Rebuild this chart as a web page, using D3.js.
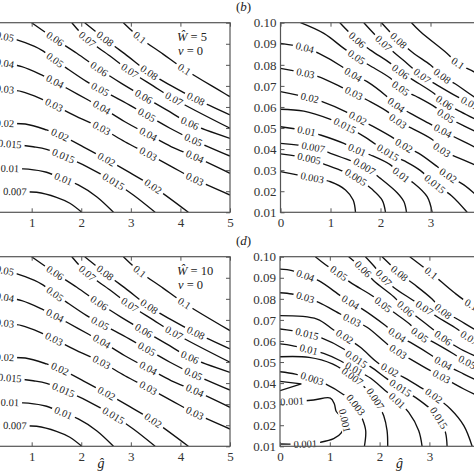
<!DOCTYPE html>
<html><head><meta charset="utf-8">
<script src="https://cdn.jsdelivr.net/npm/d3@7"></script>
<style>
body{margin:0;background:#fff}
svg{display:block}
text{font-family:"Liberation Serif","DejaVu Serif",serif}
</style></head>
<body><div class="canvas"></div>
<script>
// axis ticks
const gTicks = [0,1,2,3,4,5]
const vTicks = [0.01,0.02,0.03,0.04,0.05,0.06,0.07,0.08,0.09,0.10]

// contour lines: [g, v] points, "at" = label points
const contA = [
  {level:0.1, pts:[[2.85,0.1],[3.18,0.0929],[3.65,0.0851],[4.08,0.0779],[5.0,0.0649]], at:[1,3]},
  {level:0.08, pts:[[2.07,0.1],[2.48,0.0923],[2.95,0.0839],[3.37,0.0763],[3.82,0.07],[4.31,0.0638],[5.0,0.0562]], at:[1,3,5]},
  {level:0.07, pts:[[1.81,0.1],[2.12,0.0921],[2.58,0.0842],[2.98,0.0771],[3.45,0.07],[3.87,0.0638],[5.0,0.0499]], at:[1,3,5]},
  {level:0.06, pts:[[1.0,0.1],[1.47,0.0923],[1.91,0.0855],[2.36,0.078],[2.81,0.0712],[3.26,0.0649],[3.72,0.0586],[4.19,0.0522],[5.0,0.0451]], at:[1,3,5,7]},
  {level:0.05, pts:[[0,0.095],[0.46,0.0934],[0.87,0.0905],[1.2,0.087],[1.47,0.0823],[1.71,0.0783],[2.11,0.072],[2.38,0.0684],[2.85,0.0625],[3.32,0.0562],[3.79,0.0499],[4.26,0.0443],[5.0,0.0367]], at:[1,4,7,9,11]},
  {level:0.04, pts:[[0,0.0823],[0.46,0.0807],[0.8,0.0791],[1.2,0.0752],[1.47,0.072],[1.71,0.0689],[2.14,0.0633],[2.41,0.0598],[2.88,0.053],[3.35,0.047],[3.82,0.0411],[4.29,0.0364],[5.0,0.0285]], at:[1,4,7,9,11]},
  {level:0.03, pts:[[0,0.0693],[0.46,0.0684],[0.8,0.0673],[1.17,0.0641],[1.45,0.0609],[1.91,0.0554],[2.41,0.0499],[2.88,0.0435],[3.35,0.0377],[3.82,0.0317],[4.29,0.0257],[5.0,0.0182]], at:[1,4,6,8,10]},
  {level:0.02, pts:[[0,0.053],[0.46,0.0522],[0.87,0.0519],[1.3,0.0491],[1.57,0.0467],[2.04,0.0411],[2.51,0.0351],[2.98,0.0288],[3.45,0.0222],[4.16,0.01]], at:[1,4,6,8]},
  {level:0.015, pts:[[0,0.0431],[0.56,0.0424],[1.03,0.0411],[1.3,0.0399],[1.64,0.0367],[2.11,0.0317],[2.65,0.0246],[3.05,0.0182],[3.49,0.01]], at:[1,4,6]},
  {level:0.01, pts:[[0,0.0313],[0.56,0.0308],[0.93,0.0305],[1.3,0.029],[1.64,0.0258],[1.94,0.023],[2.31,0.0174],[2.65,0.01]], at:[1,4]},
  {level:0.007, pts:[[0,0.0203],[0.66,0.0198],[1.1,0.0195],[1.5,0.0171],[1.77,0.0143],[2.01,0.01]], at:[1]}
]

const contB = [
  {level:0.1, pts:[[2.62,0.1],[2.8,0.0957],[3.333,0.0854],[3.547,0.0807],[3.867,0.0767],[4.6,0.068]], at:[3]},
  {level:0.08, pts:[[2.02,0.1],[2.36,0.0915],[2.667,0.0854],[3.0,0.0799],[3.233,0.0747],[3.5,0.0709],[3.867,0.0649],[4.6,0.055]], at:[1,4]},
  {level:0.07, pts:[[1.667,0.1],[2.06,0.0902],[2.447,0.0824],[2.833,0.0747],[3.133,0.0704],[3.533,0.0649],[3.787,0.0617],[4.6,0.051]], at:[1,3,6]},
  {level:0.06, pts:[[1.187,0.1],[1.533,0.0918],[1.8,0.087],[2.2,0.0807],[2.4,0.0767],[2.633,0.0731],[3.067,0.0665],[3.28,0.062],[3.6,0.0578],[4.6,0.046]], at:[1,4,7]},
  {level:0.05, pts:[[0.4,0.1],[0.867,0.0949],[1.267,0.0878],[1.52,0.0836],[1.767,0.0799],[2.2,0.0736],[2.4,0.0688],[2.7,0.0652],[3.1,0.0598],[3.307,0.0557],[3.667,0.051],[4.6,0.041]], at:[3,6,9]},
  {level:0.04, pts:[[0,0.0902],[0.487,0.0881],[0.767,0.0854],[1.233,0.0791],[1.453,0.0753],[1.733,0.072],[2.133,0.0649],[2.313,0.0609],[2.6,0.057],[3.033,0.0514],[3.247,0.0486],[3.667,0.0435],[4.6,0.033]], at:[1,4,7,10]},
  {level:0.03, pts:[[0,0.0783],[0.5,0.076],[0.8,0.0741],[1.267,0.0688],[1.467,0.0665],[1.733,0.0633],[2.167,0.0573],[2.347,0.0532],[2.667,0.0494],[3.067,0.044],[3.227,0.0396],[3.667,0.0348],[4.6,0.025]], at:[1,4,7,10]},
  {level:0.02, pts:[[0,0.0673],[0.587,0.0643],[0.833,0.0625],[1.3,0.0578],[1.547,0.0546],[1.8,0.0514],[2.267,0.0451],[2.467,0.0416],[2.767,0.038],[3.133,0.0317],[3.353,0.0274],[3.667,0.023],[4.3,0.01]], at:[1,4,7,10]},
  {level:0.015, pts:[[0,0.0589],[0.467,0.058],[1.0,0.0541],[1.287,0.0511],[1.7,0.0456],[2.147,0.0383],[2.467,0.0345],[2.8,0.0298],[3.087,0.0234],[3.42,0.0179],[3.733,0.01]], at:[3,5,8]},
  {level:0.01, pts:[[0,0.0506],[0.52,0.0486],[0.8,0.0467],[1.267,0.0427],[1.533,0.0396],[1.8,0.0372],[2.2,0.0325],[2.413,0.0277],[2.667,0.0238],[2.933,0.0174],[3.033,0.01]], at:[1,4,7]},
  {level:0.007, pts:[[0,0.0427],[0.653,0.0408],[1.0,0.038],[1.4,0.0345],[1.68,0.0317],[2.0,0.0261],[2.333,0.0193],[2.467,0.0151],[2.52,0.01]], at:[1,4]},
  {level:0.005, pts:[[0,0.0377],[0.573,0.0355],[0.833,0.0332],[1.267,0.0293],[1.507,0.0266],[1.833,0.0209],[2.033,0.0158],[2.1,0.01]], at:[1,4]},
  {level:0.003, pts:[[0,0.0293],[0.633,0.0264],[1.0,0.0245],[1.3,0.0206],[1.453,0.0158],[1.5,0.01]], at:[1]}
]

const contD = [
  {level:0.1, pts:[[2.606,0.1],[3.034,0.0922],[3.49,0.0831],[3.838,0.0772],[4.6,0.068]], at:[1,3]},
  {level:0.08, pts:[[2.05,0.1],[2.217,0.0962],[2.398,0.0921],[2.686,0.087],[3.054,0.0799],[3.275,0.0741],[3.523,0.0709],[3.891,0.0657],[4.6,0.056]], at:[2,5]},
  {level:0.07, pts:[[1.715,0.1],[1.882,0.0957],[2.083,0.0899],[2.284,0.0854],[2.686,0.0791],[2.9,0.0756],[3.155,0.0715],[3.557,0.0657],[3.798,0.0614],[4.6,0.05]], at:[2,5,8]},
  {level:0.06, pts:[[1.38,0.1],[1.514,0.0973],[1.668,0.0941],[1.882,0.0886],[2.284,0.081],[2.518,0.0753],[2.719,0.072],[3.088,0.0652],[3.275,0.0614],[3.624,0.0562],[4.6,0.046]], at:[2,5,8]},
  {level:0.05, pts:[[0.71,0.1],[0.944,0.0957],[1.179,0.0921],[1.413,0.0878],[1.882,0.081],[2.07,0.0772],[2.284,0.0736],[2.619,0.0677],[2.806,0.0628],[3.088,0.0593],[3.49,0.0538],[3.758,0.0499],[4.6,0.04]], at:[2,5,8,11]},
  {level:0.04, pts:[[0,0.0941],[0.241,0.0934],[0.509,0.091],[0.777,0.0886],[1.212,0.0815],[1.413,0.0783],[1.648,0.0752],[2.117,0.0673],[2.351,0.0628],[2.619,0.0593],[3.054,0.053],[3.275,0.0494],[3.691,0.0443],[4.6,0.034]], at:[2,5,8,11]},
  {level:0.03, pts:[[0,0.0829],[0.241,0.0823],[0.509,0.0807],[0.777,0.0783],[1.212,0.0728],[1.447,0.0699],[1.748,0.0665],[2.15,0.0586],[2.371,0.0549],[2.619,0.0514],[3.021,0.0459],[3.242,0.0431],[3.691,0.0372],[4.6,0.027]], at:[2,5,8,11]},
  {level:0.02, pts:[[0,0.072],[0.743,0.0704],[1.078,0.0652],[1.299,0.062],[1.614,0.057],[1.949,0.0499],[2.204,0.0462],[2.485,0.0427],[2.82,0.038],[3.088,0.034],[3.423,0.0277],[3.691,0.0198],[3.858,0.01]], at:[3,6,9]},
  {level:0.015, pts:[[0,0.0657],[0.241,0.0649],[0.543,0.0633],[0.844,0.0614],[1.279,0.0562],[1.534,0.0514],[1.815,0.0478],[2.15,0.042],[2.418,0.0377],[2.719,0.0332],[3.021,0.0277],[3.188,0.0234],[3.322,0.0166],[3.355,0.01]], at:[2,5,8,11]},
  {level:0.01, pts:[[0,0.0586],[0.241,0.0578],[0.576,0.0559],[0.877,0.0541],[1.212,0.0506],[1.487,0.0467],[1.815,0.0424],[2.117,0.0364],[2.351,0.0317],[2.585,0.0261],[2.786,0.0174],[2.853,0.01]], at:[2,5,8]},
  {level:0.007, pts:[[0,0.0525],[0.583,0.0522],[1.052,0.0491],[1.453,0.0431],[1.715,0.0377],[1.916,0.0325],[2.083,0.0245],[2.15,0.0174],[2.163,0.01]], at:[3,5]},
  {level:0.003, pts:[[0,0.0454],[0.308,0.0443],[0.643,0.0421],[0.911,0.0396],[1.279,0.0345],[1.52,0.0296],[1.654,0.023],[1.721,0.0174],[1.695,0.01]], at:[2,5]},
  {level:0.001, pts:[[0,0.0312],[0.24,0.0313],[0.676,0.032],[1.011,0.0329],[1.092,0.0301],[1.13,0.0265],[1.3,0.0222],[1.226,0.0162],[1.078,0.0136],[0.81,0.0119],[0.509,0.0111],[0,0.0111]], at:[1,6,10]},
  {level:0.001, pts:[[0,0.0408],[0.429,0.0396],[0,0.0364]], at:[]}
]

const W = 474, H = 474
const panels = [
  {id:"a", cont:contA, x0:-17.9, x1:230, top:22.7, bot:212.3, note:"5", xlab:false, ylab:false},
  {id:"b", cont:contB, x0:280.5, x1:530.5, top:22.7, bot:212.3, note:null, xlab:false, ylab:true},
  {id:"c", cont:contA, x0:-17.9, x1:230, top:256.7, bot:446.3, note:"10", xlab:true, ylab:false},
  {id:"d", cont:contD, x0:280, x1:529, top:256.7, bot:446.3, note:null, xlab:true, ylab:true}
]

const svg = d3.select(".canvas").append("svg").attr("width",W).attr("height",H)
const defs = svg.append("defs")

const fs = 10.5
// width of a serif number label at fs
const labW = s => (s.replace(/[^0-9]/g,"").length*0.5 + (s.includes(".") ? 0.25 : 0))*fs

panels.forEach(p => {
  const x = d3.scaleLinear().domain([0,5]).range([p.x0,p.x1])
  const y = d3.scaleLinear().domain([0.01,0.1]).range([p.bot,p.top])
  const g = svg.append("g")

  defs.append("clipPath").attr("id","clip"+p.id).append("rect")
    .attr("x",p.x0).attr("y",p.top).attr("width",p.x1-p.x0).attr("height",p.bot-p.top)
  const plot = g.append("g").attr("clip-path",`url(#clip${p.id})`)

  p.cont.forEach((c,ci) => {
    const sp = c.pts.map(d => [x(d[0]), y(d[1])])
    const labs = c.at.map(i => {
      const a = sp[Math.max(i-1,0)], b = sp[Math.min(i+1,sp.length-1)]
      let ang = Math.atan2(b[1]-a[1], b[0]-a[0])*180/Math.PI
      if (ang > 90) ang -= 180
      if (ang < -90) ang += 180
      return {x:sp[i][0], y:sp[i][1], ang:ang, txt:String(c.level)}
    })
    const mid = `m${p.id}${ci}`
    const mask = defs.append("mask").attr("id",mid).attr("maskUnits","userSpaceOnUse")
      .attr("x",-100).attr("y",-100).attr("width",W+200).attr("height",H+200)
    mask.append("rect").attr("x",-100).attr("y",-100).attr("width",W+200).attr("height",H+200).attr("fill","white")
    mask.selectAll("rect.hole").data(labs).enter().append("rect").attr("class","hole")
      .attr("x", d => -labW(d.txt)/2 - 3).attr("y",-5)
      .attr("width", d => labW(d.txt) + 6).attr("height",10)
      .attr("transform", d => `translate(${d.x},${d.y}) rotate(${d.ang})`)
      .attr("fill","black")

    const curve = sp.length < 4 ? d3.curveLinear : d3.curveCatmullRom.alpha(0.5)
    plot.append("path")
      .attr("d", d3.line().curve(curve)(sp))
      .attr("mask",`url(#${mid})`)
      .attr("fill","none").attr("stroke","#111").attr("stroke-width",1.35)

    g.selectAll(null).data(labs).enter().append("text")
      .attr("transform", d => `translate(${d.x},${d.y}) rotate(${d.ang})`)
      .attr("text-anchor","middle").attr("dominant-baseline","central")
      .attr("font-size",fs).attr("fill","#222")
      .text(d => d.txt)
  })

  // axes with inward ticks
  const styleAxis = sel => {
    sel.select(".domain").remove()
    sel.selectAll("line").attr("stroke","#555")
    sel.selectAll("text").attr("font-size",13).attr("fill","#333")
      .style("font-family",'"Liberation Serif",serif')
  }
  g.append("g").attr("transform",`translate(0,${p.bot})`)
    .call(d3.axisBottom(x).tickValues(gTicks).tickSize(-4).tickPadding(5).tickFormat(d3.format("d")))
    .call(styleAxis)
  g.append("g").attr("transform",`translate(0,${p.top})`)
    .call(d3.axisTop(x).tickValues(gTicks).tickSize(-4).tickFormat(""))
    .call(styleAxis)
  g.append("g").attr("transform",`translate(${p.x0},0)`)
    .call(d3.axisLeft(y).tickValues(vTicks).tickSize(-4).tickPadding(4)
      .tickFormat(p.ylab ? d3.format(".2f") : ""))
    .call(styleAxis)
  g.append("g").attr("transform",`translate(${p.x1},0)`)
    .call(d3.axisRight(y).tickValues(vTicks).tickSize(-4).tickFormat(""))
    .call(styleAxis)

  g.append("rect").attr("x",p.x0).attr("y",p.top)
    .attr("width",p.x1-p.x0).attr("height",p.bot-p.top)
    .attr("fill","none").attr("stroke","#555").attr("stroke-width",1.2)

  if (p.note) {
    const t1 = g.append("text").attr("x",177).attr("y",p.top+18).attr("font-size",12.5).attr("fill","#222")
    t1.append("tspan").attr("font-style","italic").text("Ŵ")
    t1.append("tspan").text(" = " + p.note)
    const t2 = g.append("text").attr("x",178).attr("y",p.top+32).attr("font-size",12.5).attr("fill","#222")
    t2.append("tspan").attr("font-style","italic").text("v")
    t2.append("tspan").text(" = 0")
  }
  if (p.xlab) {
    g.append("text").attr("x",x(2.4)).attr("y",p.bot+22).attr("text-anchor","middle")
      .attr("font-size",14).attr("font-style","italic").attr("fill","#222").text("ĝ")
  }
})

// panel letters
svg.append("text").attr("x",236).attr("y",11).attr("font-size",13).attr("fill","#222")
  .html('(<tspan font-style="italic">b</tspan>)')
svg.append("text").attr("x",236).attr("y",245).attr("font-size",13).attr("fill","#222")
  .html('(<tspan font-style="italic">d</tspan>)')
</script>
</body></html>
